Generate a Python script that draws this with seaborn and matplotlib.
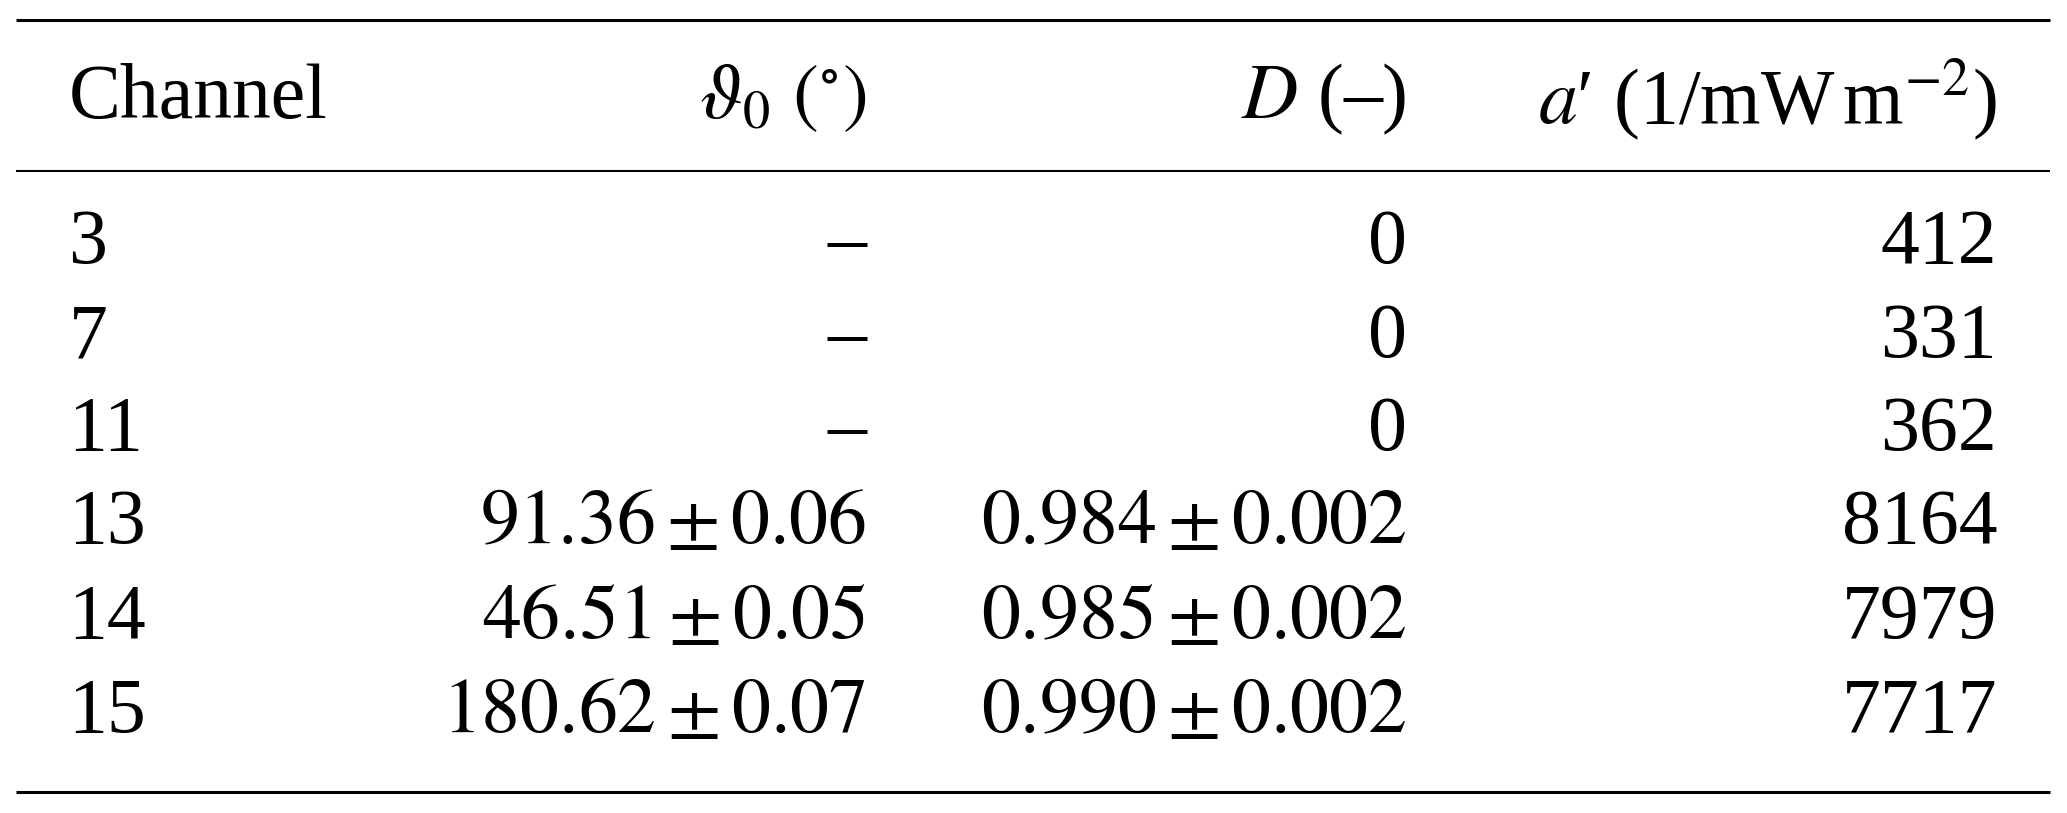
import matplotlib
matplotlib.use("Agg")
import matplotlib.pyplot as plt
import seaborn as sns

channels = ["3", "7", "11", "13", "14", "15"]
theta0 = ["–", "–", "–", r"$91.36 \pm 0.06$", r"$46.51 \pm 0.05$", r"$180.62 \pm 0.07$"]
dval = ["0", "0", "0", r"$0.984 \pm 0.002$", r"$0.985 \pm 0.002$", r"$0.990 \pm 0.002$"]
aprime = ["412", "331", "362", "8164", "7979", "7717"]
headers = ["Channel", r"$\vartheta_0$ $(^{\circ})$", r"$D$ (–)", r"$a$′ (1/mW$\,$m$^{-2}$)"]

sns.set_theme(style="white")
plt.rcParams["font.family"] = ["Liberation Serif", "DejaVu Serif"]
plt.rcParams["mathtext.fontset"] = "stix"

fig = plt.figure(figsize=(20.67, 8.13), dpi=100)
ax = fig.add_axes([0, 0, 1, 1])
ax.set_xlim(0, 1568)
ax.set_ylim(617, 0)
ax.axis("off")

fs = 56
col_x = [52, 657, 1067, 1515]
aligns = ["left", "right", "right", "right"]

ax.hlines([15, 601], 12, 1555, color="black", lw=2.2)
ax.hlines([130], 12, 1555, color="black", lw=1.5)

for x, h, al in zip(col_x, headers, aligns):
    ax.text(x, 75, h, ha=al, va="center", fontsize=fs, color="black")

row_y = [185, 257, 327, 398, 470, 541]
for i, y in enumerate(row_y):
    for x, v, al in zip(col_x, [channels[i], theta0[i], dval[i], aprime[i]], aligns):
        ax.text(x, y, v, ha=al, va="center", fontsize=fs, color="black")

fig.savefig("out.png", dpi=100)
